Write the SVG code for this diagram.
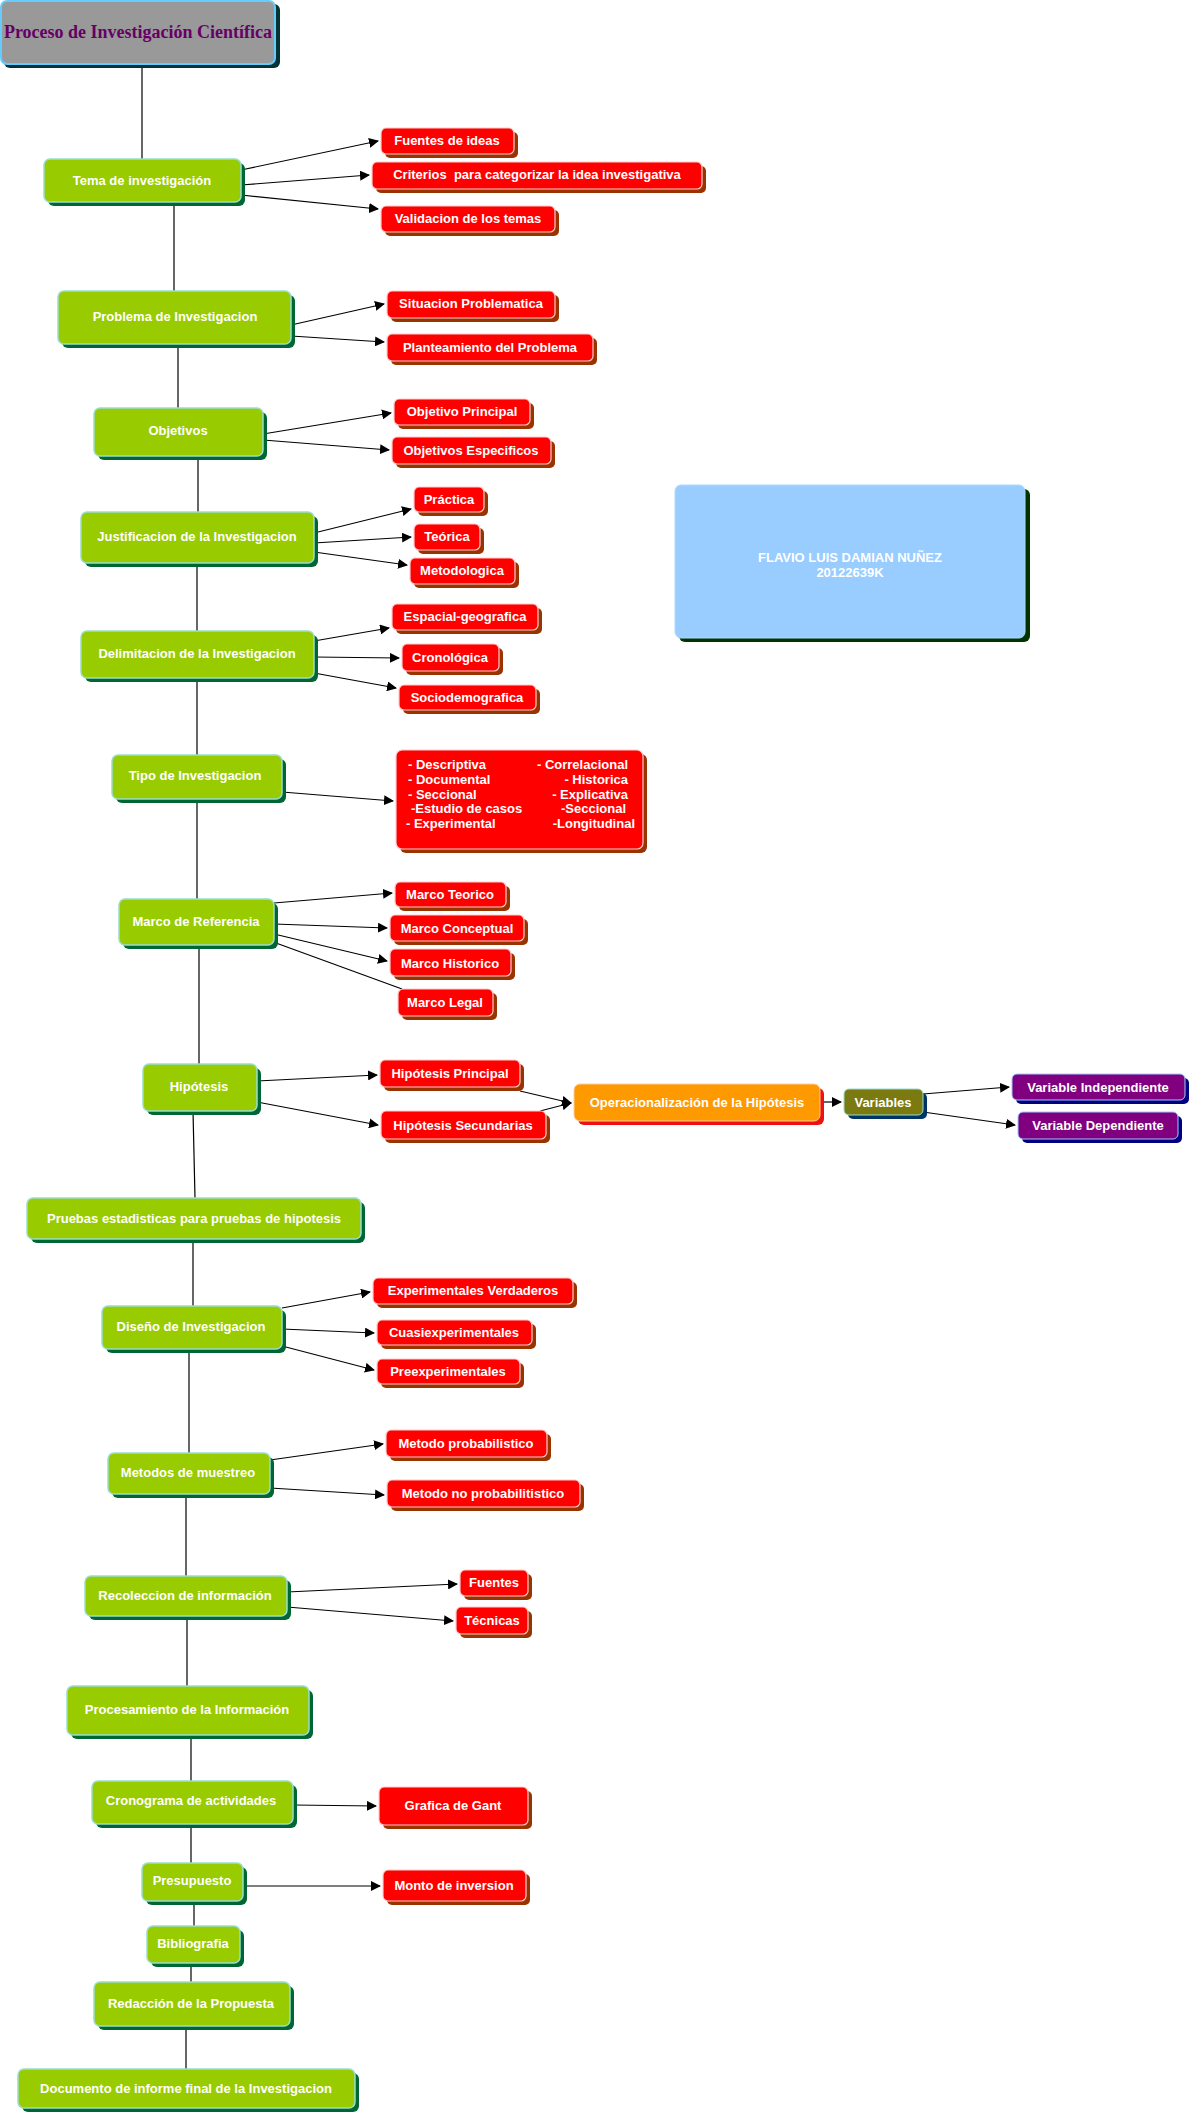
<svg xmlns="http://www.w3.org/2000/svg" width="1194" height="2115" viewBox="0 0 1194 2115">
<style>
.t{font-family:"Liberation Sans",Arial,sans-serif;font-weight:bold;font-size:13px;fill:#fff;text-anchor:middle;dominant-baseline:central}
.g{fill:#99cc00;stroke:#99ddcc;stroke-width:1.5}
.gs{fill:#006633}
.r{fill:#ff0000;stroke:#ffcccc;stroke-width:1.2}
.rs{fill:#993300}
.c line{stroke:#000;stroke-width:1.2}
.c .a{marker-end:url(#ah)}
</style>
<defs>
<marker id="ah" markerWidth="10" markerHeight="10" refX="9" refY="5" orient="auto" markerUnits="userSpaceOnUse"><path d="M0,0 L10,5 L0,10 Z" fill="#000"/></marker>
</defs>
<rect width="1194" height="2115" fill="#fff"/>
<g class="c">
<line x1="142" y1="65" x2="142" y2="159"/>
<line x1="174" y1="202" x2="174" y2="291"/>
<line x1="178" y1="344" x2="178" y2="408"/>
<line x1="198" y1="456" x2="198" y2="512"/>
<line x1="197" y1="563" x2="197" y2="631"/>
<line x1="197" y1="678" x2="197" y2="755"/>
<line x1="197" y1="799" x2="197" y2="899"/>
<line x1="199" y1="945" x2="199" y2="1064"/>
<line x1="193" y1="1111" x2="195" y2="1198"/>
<line x1="193" y1="1239" x2="193" y2="1306"/>
<line x1="189" y1="1349" x2="189" y2="1453"/>
<line x1="186" y1="1494" x2="186" y2="1576"/>
<line x1="187" y1="1616" x2="187" y2="1686"/>
<line x1="191" y1="1735" x2="191" y2="1781"/>
<line x1="191" y1="1824" x2="191" y2="1863"/>
<line x1="194" y1="1901" x2="194" y2="1926"/>
<line x1="191" y1="1963" x2="191" y2="1982"/>
<line x1="186" y1="2026" x2="186" y2="2069"/>
<line class="a" x1="241" y1="170" x2="378" y2="141"/>
<line class="a" x1="241" y1="185" x2="369" y2="175"/>
<line class="a" x1="241" y1="195" x2="378" y2="209"/>
<line class="a" x1="291" y1="325" x2="384" y2="304"/>
<line class="a" x1="291" y1="336" x2="384" y2="342"/>
<line class="a" x1="263" y1="434" x2="391" y2="413"/>
<line class="a" x1="263" y1="440" x2="389" y2="450"/>
<line class="a" x1="314" y1="533" x2="411" y2="509"/>
<line class="a" x1="314" y1="543" x2="411" y2="537"/>
<line class="a" x1="314" y1="552" x2="407" y2="565"/>
<line class="a" x1="314" y1="641" x2="389" y2="628"/>
<line class="a" x1="314" y1="657" x2="399" y2="658"/>
<line class="a" x1="314" y1="673" x2="396" y2="688"/>
<line class="a" x1="282" y1="792" x2="393" y2="801"/>
<line class="a" x1="274" y1="903" x2="392" y2="893"/>
<line class="a" x1="274" y1="924" x2="387" y2="928"/>
<line class="a" x1="274" y1="934" x2="387" y2="961"/>
<line x1="276" y1="943" x2="402" y2="989"/>
<line class="a" x1="257" y1="1081" x2="377" y2="1075"/>
<line class="a" x1="257" y1="1102" x2="378" y2="1125"/>
<line class="a" x1="520" y1="1091" x2="571" y2="1103"/>
<line class="a" x1="540" y1="1111" x2="571" y2="1103"/>
<line class="a" x1="820" y1="1102" x2="841" y2="1102"/>
<line class="a" x1="923" y1="1094" x2="1009" y2="1087"/>
<line class="a" x1="923" y1="1112" x2="1015" y2="1125"/>
<line class="a" x1="282" y1="1308" x2="370" y2="1292"/>
<line class="a" x1="282" y1="1329" x2="374" y2="1333"/>
<line class="a" x1="282" y1="1346" x2="374" y2="1370"/>
<line class="a" x1="270" y1="1460" x2="383" y2="1444"/>
<line class="a" x1="270" y1="1488" x2="384" y2="1495"/>
<line class="a" x1="287" y1="1592" x2="457" y2="1584"/>
<line class="a" x1="287" y1="1607" x2="453" y2="1621"/>
<line class="a" x1="293" y1="1805" x2="376" y2="1806"/>
<line class="a" x1="243" y1="1886" x2="380" y2="1886"/>
</g>

<g id="title"><rect x="4" y="4" width="276" height="64" rx="6" fill="#003333"/><rect x="1" y="1" width="274" height="63" rx="6" fill="#999999" stroke="#66ccff" stroke-width="2"/><text x="138" y="32" style="font-family:'Liberation Serif',serif;font-weight:bold;font-size:18px;fill:#660066;text-anchor:middle;dominant-baseline:central">Proceso de Investigación Científica</text></g>

<g id="flavio"><rect x="679" y="489" width="351" height="153" rx="6" fill="#003300"/><rect x="675" y="485" width="350" height="153" rx="6" fill="#99ccff" stroke="#aaddff"/><text class="t" x="850" y="557">FLAVIO LUIS DAMIAN NUÑEZ</text><text class="t" x="850" y="572">20122639K</text></g>

<g id="n-tema"><rect class="gs" x="48" y="163" width="197" height="43" rx="6"/><rect class="g" x="44" y="159" width="197" height="43" rx="6"/><text class="t" x="142" y="180">Tema de investigación</text></g>
<g id="n-problema"><rect class="gs" x="62" y="295" width="233" height="53" rx="6"/><rect class="g" x="58" y="291" width="233" height="53" rx="6"/><text class="t" x="175" y="316">Problema de Investigacion</text></g>
<g id="n-objetivos"><rect class="gs" x="98" y="412" width="169" height="48" rx="6"/><rect class="g" x="94" y="408" width="169" height="48" rx="6"/><text class="t" x="178" y="430">Objetivos</text></g>
<g id="n-justif"><rect class="gs" x="85" y="516" width="233" height="51" rx="6"/><rect class="g" x="81" y="512" width="233" height="51" rx="6"/><text class="t" x="197" y="536">Justificacion de la Investigacion</text></g>
<g id="n-delim"><rect class="gs" x="85" y="635" width="233" height="47" rx="6"/><rect class="g" x="81" y="631" width="233" height="47" rx="6"/><text class="t" x="197" y="653">Delimitacion de la Investigacion</text></g>
<g id="n-tipo"><rect class="gs" x="116" y="759" width="170" height="44" rx="6"/><rect class="g" x="112" y="755" width="170" height="44" rx="6"/><text class="t" x="195" y="775">Tipo de Investigacion</text></g>
<g id="n-marco"><rect class="gs" x="123" y="903" width="155" height="46" rx="6"/><rect class="g" x="119" y="899" width="155" height="46" rx="6"/><text class="t" x="196" y="921">Marco de Referencia</text></g>
<g id="n-hipotesis"><rect class="gs" x="147" y="1068" width="114" height="47" rx="6"/><rect class="g" x="143" y="1064" width="114" height="47" rx="6"/><text class="t" x="199" y="1086">Hipótesis</text></g>
<g id="n-pruebas"><rect class="gs" x="31" y="1202" width="334" height="41" rx="6"/><rect class="g" x="27" y="1198" width="334" height="41" rx="6"/><text class="t" x="194" y="1218">Pruebas estadisticas para pruebas de hipotesis</text></g>
<g id="n-diseno"><rect class="gs" x="106" y="1310" width="180" height="43" rx="6"/><rect class="g" x="102" y="1306" width="180" height="43" rx="6"/><text class="t" x="191" y="1326">Diseño de Investigacion</text></g>
<g id="n-metodos"><rect class="gs" x="112" y="1457" width="162" height="41" rx="6"/><rect class="g" x="108" y="1453" width="162" height="41" rx="6"/><text class="t" x="188" y="1472">Metodos de muestreo</text></g>
<g id="n-recoleccion"><rect class="gs" x="89" y="1580" width="202" height="40" rx="6"/><rect class="g" x="85" y="1576" width="202" height="40" rx="6"/><text class="t" x="185" y="1595">Recoleccion de información</text></g>
<g id="n-procesamiento"><rect class="gs" x="71" y="1690" width="242" height="49" rx="6"/><rect class="g" x="67" y="1686" width="242" height="49" rx="6"/><text class="t" x="187" y="1709">Procesamiento de la Información</text></g>
<g id="n-cronograma"><rect class="gs" x="96" y="1785" width="201" height="43" rx="6"/><rect class="g" x="92" y="1781" width="201" height="43" rx="6"/><text class="t" x="191" y="1800">Cronograma de actividades</text></g>
<g id="n-presupuesto"><rect class="gs" x="146" y="1867" width="101" height="38" rx="6"/><rect class="g" x="142" y="1863" width="101" height="38" rx="6"/><text class="t" x="192" y="1880">Presupuesto</text></g>
<g id="n-bibliografia"><rect class="gs" x="151" y="1930" width="93" height="37" rx="6"/><rect class="g" x="147" y="1926" width="93" height="37" rx="6"/><text class="t" x="193" y="1943">Bibliografia</text></g>
<g id="n-redaccion"><rect class="gs" x="98" y="1986" width="196" height="44" rx="6"/><rect class="g" x="94" y="1982" width="196" height="44" rx="6"/><text class="t" x="191" y="2003">Redacción de la Propuesta</text></g>
<g id="n-documento"><rect class="gs" x="22" y="2073" width="337" height="39" rx="6"/><rect class="g" x="18" y="2069" width="337" height="39" rx="6"/><text class="t" x="186" y="2088">Documento de informe final de la Investigacion</text></g>

<g id="r-fuentesideas"><rect class="rs" x="385" y="132" width="133" height="26" rx="5"/><rect class="r" x="381" y="128" width="133" height="26" rx="5"/><text class="t" x="447" y="140">Fuentes de ideas</text></g>
<g id="r-criterios"><rect class="rs" x="376" y="166" width="330" height="27" rx="5"/><rect class="r" x="372" y="162" width="330" height="27" rx="5"/><text class="t" x="537" y="174" xml:space="preserve">Criterios  para categorizar la idea investigativa</text></g>
<g id="r-validacion"><rect class="rs" x="385" y="210" width="174" height="26" rx="5"/><rect class="r" x="381" y="206" width="174" height="26" rx="5"/><text class="t" x="468" y="218">Validacion de los temas</text></g>
<g id="r-situacion"><rect class="rs" x="391" y="295" width="168" height="27" rx="5"/><rect class="r" x="387" y="291" width="168" height="27" rx="5"/><text class="t" x="471" y="303">Situacion Problematica</text></g>
<g id="r-planteamiento"><rect class="rs" x="391" y="338" width="206" height="27" rx="5"/><rect class="r" x="387" y="334" width="206" height="27" rx="5"/><text class="t" x="490" y="347">Planteamiento del Problema</text></g>
<g id="r-objprincipal"><rect class="rs" x="398" y="403" width="136" height="26" rx="5"/><rect class="r" x="394" y="399" width="136" height="26" rx="5"/><text class="t" x="462" y="411">Objetivo Principal</text></g>
<g id="r-objespecificos"><rect class="rs" x="396" y="441" width="159" height="27" rx="5"/><rect class="r" x="392" y="437" width="159" height="27" rx="5"/><text class="t" x="471" y="450">Objetivos Especificos</text></g>
<g id="r-practica"><rect class="rs" x="418" y="491" width="70" height="25" rx="5"/><rect class="r" x="414" y="487" width="70" height="25" rx="5"/><text class="t" x="449" y="499">Práctica</text></g>
<g id="r-teorica"><rect class="rs" x="418" y="528" width="66" height="26" rx="5"/><rect class="r" x="414" y="524" width="66" height="26" rx="5"/><text class="t" x="447" y="536">Teórica</text></g>
<g id="r-metodologica"><rect class="rs" x="414" y="562" width="105" height="26" rx="5"/><rect class="r" x="410" y="558" width="105" height="26" rx="5"/><text class="t" x="462" y="570">Metodologica</text></g>
<g id="r-espacial"><rect class="rs" x="396" y="608" width="146" height="26" rx="5"/><rect class="r" x="392" y="604" width="146" height="26" rx="5"/><text class="t" x="465" y="616">Espacial-geografica</text></g>
<g id="r-cronologica"><rect class="rs" x="406" y="648" width="97" height="27" rx="5"/><rect class="r" x="402" y="644" width="97" height="27" rx="5"/><text class="t" x="450" y="657">Cronológica</text></g>
<g id="r-socio"><rect class="rs" x="403" y="689" width="137" height="25" rx="5"/><rect class="r" x="399" y="685" width="137" height="25" rx="5"/><text class="t" x="467" y="697">Sociodemografica</text></g>
<g id="r-tipos"><rect class="rs" x="400" y="754" width="247" height="99" rx="6"/><rect class="r" x="396" y="750" width="247" height="99" rx="6"/>
<g class="t" style="text-anchor:start"><text x="408" y="764" style="text-anchor:start">- Descriptiva</text><text x="408" y="779" style="text-anchor:start">- Documental</text><text x="408" y="794" style="text-anchor:start">- Seccional</text><text x="411" y="808" style="text-anchor:start">-Estudio de casos</text><text x="406" y="823" style="text-anchor:start">- Experimental</text></g>
<g class="t"><text x="628" y="764" style="text-anchor:end">- Correlacional</text><text x="628" y="779" style="text-anchor:end">- Historica</text><text x="628" y="794" style="text-anchor:end">- Explicativa</text><text x="626" y="808" style="text-anchor:end">-Seccional</text><text x="635" y="823" style="text-anchor:end">-Longitudinal</text></g></g>
<g id="r-mteorico"><rect class="rs" x="399" y="886" width="111" height="25" rx="5"/><rect class="r" x="395" y="882" width="111" height="25" rx="5"/><text class="t" x="450" y="894">Marco Teorico</text></g>
<g id="r-mconceptual"><rect class="rs" x="394" y="919" width="134" height="26" rx="5"/><rect class="r" x="390" y="915" width="134" height="26" rx="5"/><text class="t" x="457" y="928">Marco Conceptual</text></g>
<g id="r-mhistorico"><rect class="rs" x="394" y="953" width="121" height="27" rx="5"/><rect class="r" x="390" y="949" width="121" height="27" rx="5"/><text class="t" x="450" y="963">Marco Historico</text></g>
<g id="r-mlegal"><rect class="rs" x="402" y="993" width="95" height="27" rx="5"/><rect class="r" x="398" y="989" width="95" height="27" rx="5"/><text class="t" x="445" y="1002">Marco Legal</text></g>
<g id="r-hprincipal"><rect class="rs" x="384" y="1064" width="140" height="27" rx="5"/><rect class="r" x="380" y="1060" width="140" height="27" rx="5"/><text class="t" x="450" y="1073">Hipótesis Principal</text></g>
<g id="r-hsecundarias"><rect class="rs" x="385" y="1115" width="165" height="28" rx="5"/><rect class="r" x="381" y="1111" width="165" height="28" rx="5"/><text class="t" x="463" y="1125">Hipótesis Secundarias</text></g>
<g id="n-operacionalizacion"><rect x="578" y="1088" width="246" height="37" rx="6" fill="#ee1111"/><rect x="574" y="1084" width="246" height="37" rx="6" fill="#ff9900" stroke="#ffcc99"/><text class="t" x="697" y="1102">Operacionalización de la Hipótesis</text></g>
<g id="n-variables"><rect x="848" y="1093" width="79" height="26" rx="5" fill="#003366"/><rect x="844" y="1089" width="79" height="26" rx="5" fill="#7a7a10" stroke="#99ddcc"/><text class="t" x="883" y="1102">Variables</text></g>
<g id="n-vindep"><rect x="1016" y="1078" width="173" height="26" rx="5" fill="#000080"/><rect x="1012" y="1074" width="173" height="26" rx="5" fill="#800080" stroke="#99ccff"/><text class="t" x="1098" y="1087">Variable Independiente</text></g>
<g id="n-vdep"><rect x="1022" y="1116" width="160" height="27" rx="5" fill="#000080"/><rect x="1018" y="1112" width="160" height="27" rx="5" fill="#800080" stroke="#99ccff"/><text class="t" x="1098" y="1125">Variable Dependiente</text></g>
<g id="r-expver"><rect class="rs" x="377" y="1282" width="200" height="26" rx="5"/><rect class="r" x="373" y="1278" width="200" height="26" rx="5"/><text class="t" x="473" y="1290">Experimentales Verdaderos</text></g>
<g id="r-cuasi"><rect class="rs" x="381" y="1324" width="155" height="25" rx="5"/><rect class="r" x="377" y="1320" width="155" height="25" rx="5"/><text class="t" x="454" y="1332">Cuasiexperimentales</text></g>
<g id="r-pre"><rect class="rs" x="381" y="1363" width="143" height="25" rx="5"/><rect class="r" x="377" y="1359" width="143" height="25" rx="5"/><text class="t" x="448" y="1371">Preexperimentales</text></g>
<g id="r-mprob"><rect class="rs" x="390" y="1434" width="161" height="27" rx="5"/><rect class="r" x="386" y="1430" width="161" height="27" rx="5"/><text class="t" x="466" y="1443">Metodo probabilistico</text></g>
<g id="r-mnoprob"><rect class="rs" x="391" y="1484" width="193" height="27" rx="5"/><rect class="r" x="387" y="1480" width="193" height="27" rx="5"/><text class="t" x="483" y="1493">Metodo no probabilitistico</text></g>
<g id="r-fuentes"><rect class="rs" x="464" y="1574" width="68" height="26" rx="5"/><rect class="r" x="460" y="1570" width="68" height="26" rx="5"/><text class="t" x="494" y="1582">Fuentes</text></g>
<g id="r-tecnicas"><rect class="rs" x="460" y="1611" width="72" height="27" rx="5"/><rect class="r" x="456" y="1607" width="72" height="27" rx="5"/><text class="t" x="492" y="1620">Técnicas</text></g>
<g id="r-gant"><rect class="rs" x="383" y="1791" width="149" height="38" rx="5"/><rect class="r" x="379" y="1787" width="149" height="38" rx="5"/><text class="t" x="453" y="1805">Grafica de Gant</text></g>
<g id="r-monto"><rect class="rs" x="387" y="1874" width="143" height="31" rx="5"/><rect class="r" x="383" y="1870" width="143" height="31" rx="5"/><text class="t" x="454" y="1885">Monto de inversion</text></g>
</svg>
